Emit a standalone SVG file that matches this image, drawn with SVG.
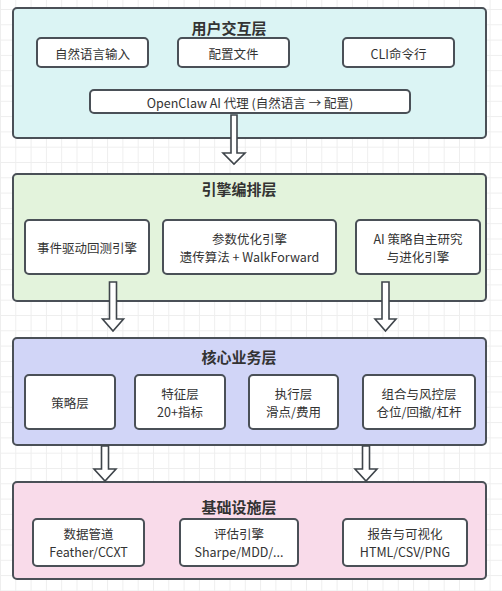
<svg xmlns="http://www.w3.org/2000/svg" width="502" height="591" viewBox="0 0 502 591">
  <defs>
    <pattern id="grid" patternUnits="userSpaceOnUse" x="0" y="9" width="15.3" height="15.3">
      <path d="M 0 0.5 H 15.3 M 0.5 0 V 15.3" fill="none" stroke="#eeeeee" stroke-width="1"/>
    </pattern>
  </defs>
  <style>
    .layer { stroke: #4a5057; stroke-width: 2; }
    .box { fill: #ffffff; stroke: #4a5057; stroke-width: 2; }
    .title { font-family: "Noto Sans CJK SC", "Noto Sans", sans-serif; font-size: 15px; font-weight: bold; fill: #333333; text-anchor: middle; dominant-baseline: central; }
    .lbl { font-family: "Noto Sans CJK SC", "Noto Sans", sans-serif; font-size: 12.5px; fill: #333333; text-anchor: middle; dominant-baseline: central; }
    .arrow { fill: #ffffff; stroke: #3f454b; stroke-width: 1.6; stroke-linejoin: miter; }
  </style>
  <rect x="0" y="0" width="502" height="591" fill="#ffffff"/>
  <rect x="0" y="0" width="502" height="591" fill="url(#grid)"/>

  <g id="layer-user">
    <rect class="layer" x="13" y="8" width="473" height="130" rx="4" fill="#dbf4f4"/>
    <text class="title" x="229" y="27">用户交互层</text>
    <g id="n-nl"><rect class="box" x="37" y="38" width="111" height="29" rx="4"/><text class="lbl" x="92.5" y="53">自然语言输入</text></g>
    <g id="n-cfg"><rect class="box" x="178" y="38" width="111" height="29" rx="4"/><text class="lbl" x="233.5" y="53">配置文件</text></g>
    <g id="n-cli"><rect class="box" x="343" y="38" width="111" height="29" rx="4"/><text class="lbl" x="398.5" y="53">CLI命令行</text></g>
    <g id="n-openclaw"><rect class="box" x="90" y="90" width="320" height="23" rx="4"/><text class="lbl" x="250" y="102">OpenClaw AI 代理 (自然语言 → 配置)</text></g>
  </g>

  <g id="layer-engine">
    <rect class="layer" x="13" y="174" width="473" height="127" rx="4" fill="#e3f3dc"/>
    <text class="title" x="239" y="188">引擎编排层</text>
    <g id="n-backtest"><rect class="box" x="25" y="220" width="124" height="54" rx="4"/><text class="lbl" x="87" y="247">事件驱动回测引擎</text></g>
    <g id="n-optim"><rect class="box" x="163" y="220" width="173" height="54" rx="4"/><text class="lbl" x="249.5" y="238">参数优化引擎</text><text class="lbl" x="249.5" y="256.5">遗传算法 + WalkForward</text></g>
    <g id="n-ai"><rect class="box" x="356" y="220" width="124" height="54" rx="4"/><text class="lbl" x="418" y="238">AI 策略自主研究</text><text class="lbl" x="418" y="256.5">与进化引擎</text></g>
  </g>

  <g id="layer-core">
    <rect class="layer" x="13" y="338" width="473" height="107" rx="4" fill="#d1d5f7"/>
    <text class="title" x="239" y="356">核心业务层</text>
    <g id="n-strategy"><rect class="box" x="25" y="375" width="90" height="54" rx="4"/><text class="lbl" x="70" y="402">策略层</text></g>
    <g id="n-feature"><rect class="box" x="135" y="375" width="90" height="54" rx="4"/><text class="lbl" x="180" y="393">特征层</text><text class="lbl" x="180" y="411.5">20+指标</text></g>
    <g id="n-exec"><rect class="box" x="249" y="375" width="89" height="54" rx="4"/><text class="lbl" x="293.5" y="393">执行层</text><text class="lbl" x="293.5" y="411.5">滑点/费用</text></g>
    <g id="n-risk"><rect class="box" x="363" y="375" width="112" height="54" rx="4"/><text class="lbl" x="419" y="393">组合与风控层</text><text class="lbl" x="419" y="411.5">仓位/回撤/杠杆</text></g>
  </g>

  <g id="layer-infra">
    <rect class="layer" x="13" y="482" width="473" height="97" rx="4" fill="#f9dbea"/>
    <text class="title" x="239" y="506">基础设施层</text>
    <g id="n-data"><rect class="box" x="33" y="519" width="111" height="47" rx="4"/><text class="lbl" x="88.5" y="533">数据管道</text><text class="lbl" x="88.5" y="551.5">Feather/CCXT</text></g>
    <g id="n-eval"><rect class="box" x="180" y="519" width="118" height="47" rx="4"/><text class="lbl" x="239" y="533">评估引擎</text><text class="lbl" x="239" y="551.5">Sharpe/MDD/...</text></g>
    <g id="n-report"><rect class="box" x="343" y="519" width="124" height="47" rx="4"/><text class="lbl" x="405" y="533">报告与可视化</text><text class="lbl" x="405" y="551.5">HTML/CSV/PNG</text></g>
  </g>

  <g id="connectors">
    <path class="arrow" d="M231 115 H237 V153 H245 L234 164 L223 153 H231 Z"/>
    <path class="arrow" d="M109.5 282 H116.5 V319 H123.5 L113 331 L102.5 319 H109.5 Z"/>
    <path class="arrow" d="M382 282 H389 V319 H396 L385.5 331 L375 319 H382 Z"/>
    <path class="arrow" d="M101.5 446 H108.5 V469 H116 L105 481 L94 469 H101.5 Z"/>
    <path class="arrow" d="M362.5 446 H369.5 V469 H377 L366 481 L355 469 H362.5 Z"/>
  </g>
</svg>
